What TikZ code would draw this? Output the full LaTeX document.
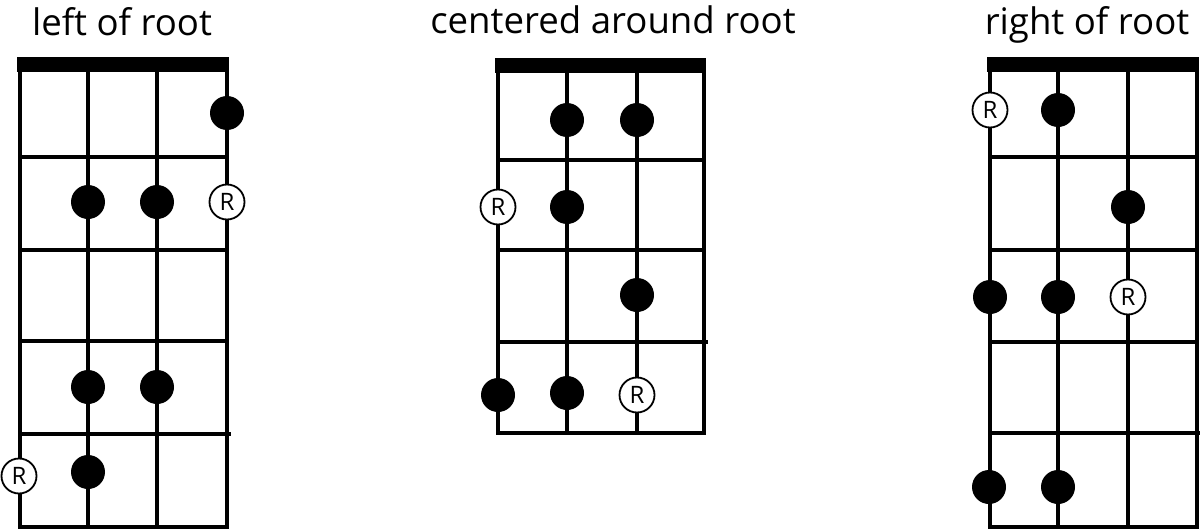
\documentclass[tikz,border=0pt]{standalone}
\usepackage{fontspec}
\setmainfont{Open Sans}

\begin{document}
\begin{tikzpicture}[x=0.5pt, y=-0.5pt,
  string/.style = {line width=2.2pt},
  fret/.style = {line width=2pt},
  dot/.style = {circle, fill=black, minimum size=17pt, inner sep=0pt},
  root/.style = {circle, draw, line width=0.9pt, fill=white, minimum size=17.5pt, inner sep=0pt, font=\fontsize{12}{12}\selectfont},
  title/.style = {anchor=base, font=\fontsize{18.3}{22}\selectfont}]
  \useasboundingbox (0,0) rectangle (1200,530);

  % left of root
  \node[title] (tleft) at (122,35) {left of root};
  \fill (17,57) rectangle (229,72);
  \draw[string] (20,64) -- (20,529);
  \draw[string] (88,64) -- (88,529);
  \draw[string] (157,64) -- (157,529);
  \draw[string] (227,64) -- (227,529);
  \draw[fret] (20,157) -- (227,157);
  \draw[fret] (20,250) -- (227,250);
  \draw[fret] (20,341) -- (227,341);
  \draw[fret] (20,434) -- (231,434);
  \draw[fret] (18,527) -- (229,527);
  \node[dot] (l14) at (227,113) {};
  \node[dot] (l22) at (88,202) {};
  \node[dot] (l23) at (157,202) {};
  \node[root] (l24) at (227,202) {R};
  \node[dot] (l42) at (88,387) {};
  \node[dot] (l43) at (157,387) {};
  \node[root] (l51) at (19,476) {R};
  \node[dot] (l52) at (88,472) {};

  % centered around root
  \node[title] (tcenter) at (613,33) {centered around root};
  \fill (495,58) rectangle (706,73);
  \draw[string] (498,65) -- (498,435);
  \draw[string] (567,65) -- (567,435);
  \draw[string] (637,65) -- (637,435);
  \draw[string] (704,65) -- (704,435);
  \draw[fret] (498,160) -- (704,160);
  \draw[fret] (498,250) -- (704,250);
  \draw[fret] (498,342) -- (708,342);
  \draw[fret] (496,433) -- (706,433);
  \node[dot] (c12) at (567,120) {};
  \node[dot] (c13) at (637,120) {};
  \node[root] (c21) at (498,207) {R};
  \node[dot] (c22) at (567,207) {};
  \node[dot] (c33) at (637,295) {};
  \node[dot] (c41) at (498,395) {};
  \node[dot] (c42) at (567,393) {};
  \node[root] (c43) at (637,395) {R};

  % right of root
  \node[title] (tright) at (1087,34) {right of root};
  \fill (987,57) rectangle (1199,72);
  \draw[string] (990,64) -- (990,529);
  \draw[string] (1058,64) -- (1058,529);
  \draw[string] (1128,64) -- (1128,529);
  \draw[string] (1197,64) -- (1197,529);
  \draw[fret] (990,157) -- (1197,157);
  \draw[fret] (990,250) -- (1197,250);
  \draw[fret] (990,342) -- (1197,342);
  \draw[fret] (990,433) -- (1200,433);
  \draw[fret] (988,527) -- (1199,527);
  \node[root] (r11) at (990,110) {R};
  \node[dot] (r12) at (1058,110) {};
  \node[dot] (r23) at (1128,207) {};
  \node[dot] (r31) at (990,297) {};
  \node[dot] (r32) at (1058,297) {};
  \node[root] (r33) at (1128,297) {R};
  \node[dot] (r51) at (989,487) {};
  \node[dot] (r52) at (1058,487) {};
\end{tikzpicture}
\end{document}
